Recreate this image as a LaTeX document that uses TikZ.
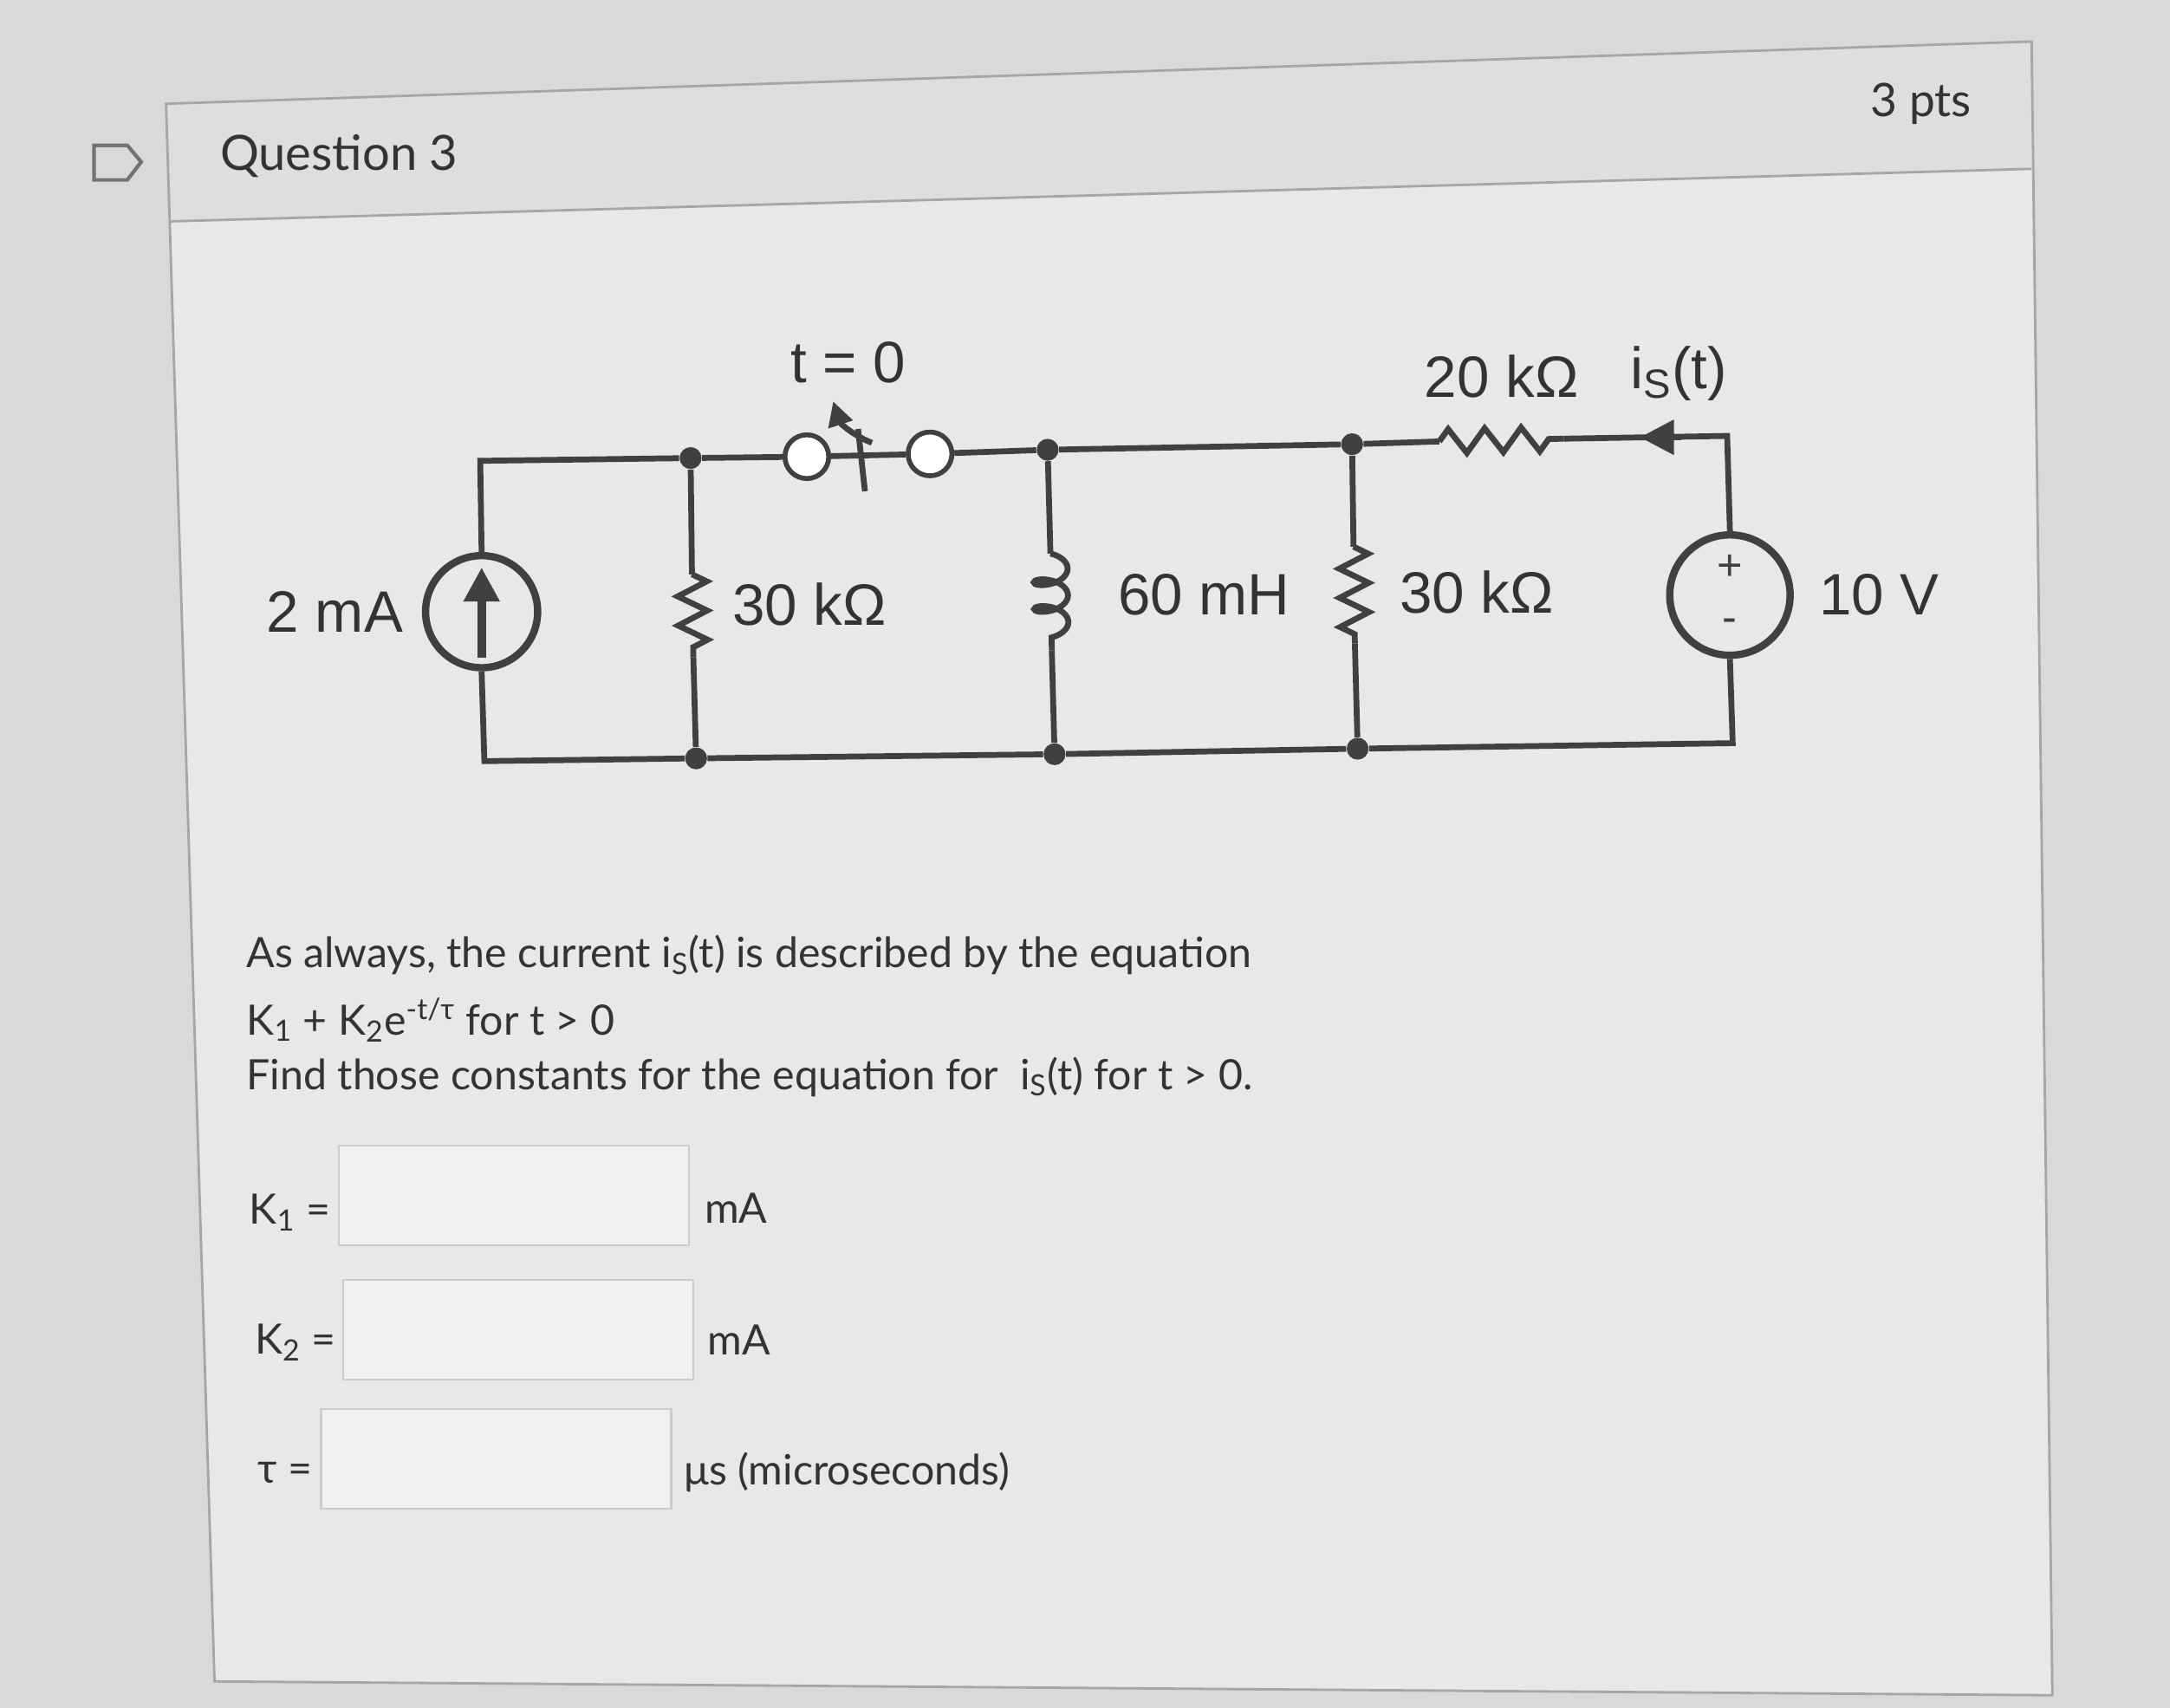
\documentclass[tikz,border=0pt]{standalone}
\usepackage{fontspec}
\setmainfont{Lato}
\newfontfamily\arial{Liberation Sans}
\usetikzlibrary{arrows.meta,decorations.pathmorphing}
\begin{document}
\begin{tikzpicture}[x=0.02cm,y=-0.02cm,
  wire/.style={line width=2.4pt,draw=black!75},
  dotn/.style={circle,fill=black!75,inner sep=0pt,minimum size=9pt},
  clab/.style={font=\arial\fontsize{24}{28}\selectfont,text=black!80},
  body/.style={font=\fontsize{17.2}{20}\selectfont,text=black!80,anchor=west},
  ansbox/.style={draw=black!20,fill=black!6,line width=0.8pt}]
\useasboundingbox (0,0) rectangle (1568,1234);
\fill[black!15] (0,0) rectangle (1568,1234);
% card
\fill[black!9] (120,75) -- (1468,30) -- (1483,1225) -- (155,1215) -- cycle;
\fill[black!13] (120,75) -- (1468,30) -- (1468,122) -- (122,160) -- cycle;
\draw[black!35,line width=1pt] (120,75) -- (1468,30) -- (1483,1225) -- (155,1215) -- cycle;
\draw[black!35,line width=1pt] (122,160) -- (1468,122);
\draw[black!55,line width=1.5pt] (68,105) -- (92,105) -- (102,117) -- (92,130) -- (68,130) -- cycle;
\node[font=\fontsize{20}{24}\selectfont,text=black!80] (q) at (245,113) {Question 3};
\node[font=\fontsize{19}{24}\selectfont,text=black!80] (pts) at (1388,75) {3 pts};
% circuit nodes
\coordinate (tl) at (347,333); \coordinate (bl) at (350,550);
\node[dotn] (n1) at (499,331) {}; \node[dotn] (b1) at (503,548) {};
\node[circle,draw=black!75,line width=2pt,fill=white,inner sep=0pt,minimum size=18pt] (s1) at (583,330) {};
\node[circle,draw=black!75,line width=2pt,fill=white,inner sep=0pt,minimum size=18pt] (s2) at (672,328) {};
\node[dotn] (n2) at (757,325) {}; \node[dotn] (b2) at (762,545) {};
\node[dotn] (n3) at (977,321) {}; \node[dotn] (b3) at (981,541) {};
\coordinate (tr) at (1248,315); \coordinate (br) at (1252,537);
\node[circle,draw=black!75,line width=3pt,minimum size=1.62cm,inner sep=0pt] (cs) at (348,442) {};
\node[circle,draw=black!75,line width=3pt,minimum size=1.74cm,inner sep=0pt] (vs) at (1250,430) {};
% wires
\draw[wire] (cs.north) -- (tl) -- (n1) -- (s1);
\draw[wire] (cs.south) -- (bl) -- (b1) -- (b2) -- (b3) -- (br) -- (vs.south);
\draw[wire] (s2) -- (n2) -- (n3) -- (1040,319);
\draw[wire] (1130,317) -- (tr) -- (vs.north);
% 20k resistor
\draw[wire,decorate,decoration={zigzag,segment length=15pt,amplitude=5pt}] (1040,319) -- (1130,317);
\draw[-{Triangle[length=14pt,width=14pt]},black!75,line width=2.4pt] (1215,316) -- (1185,316);
% switch
\draw[wire] (s1) -- (s2);
\draw[wire] (620,310) -- (625,355);
\draw[-{Triangle[length=10pt,width=10pt]},black!75,line width=2.4pt] (630,320) to[bend left=25] (602,290);
% current source arrow
\draw[-{Triangle[length=14pt,width=14pt]},black!75,line width=3.5pt] (348,475) -- (348,410);
\node[font=\arial\fontsize{18}{18}\selectfont,text=black!75] at (1250,410) {+};
\node[font=\arial\fontsize{18}{18}\selectfont,text=black!75] at (1250,452) {-};
% vertical resistors and inductor
\draw[wire] (n1) -- (500,415);
\draw[wire,decorate,decoration={zigzag,segment length=12pt,amplitude=6pt}] (500,415) -- (501,475);
\draw[wire] (501,475) -- (b1);
\draw[wire] (n2) -- (759,400);
\draw[wire,decorate,decoration={coil,aspect=0.5,segment length=11pt,amplitude=7pt}] (759,400) -- (760,470);
\draw[wire] (760,470) -- (b2);
\draw[wire] (n3) -- (978,395);
\draw[wire,decorate,decoration={zigzag,segment length=12pt,amplitude=6pt}] (978,395) -- (979,465);
\draw[wire] (979,465) -- (b3);
% labels
\node[clab] (l1) at (242,442) {2 mA};
\node[clab] (l2) at (585,437) {30 kΩ};
\node[clab] (l3) at (870,430) {60 mH};
\node[clab] (l4) at (1067,428) {30 kΩ};
\node[clab] (l5) at (1358,430) {10 V};
\node[clab] (l6) at (1085,272) {20 kΩ};
\node[clab] (l7) at (1213,270) {i\textsubscript{S}(t)};
\node[clab] (l8) at (613,262) {t = 0};
% text
\node[body] (t1) at (172,690) {As always, the current i\textsubscript{S}(t) is described by the equation};
\node[body] (t2) at (172,737) {K\textsubscript{1} + K\textsubscript{2}e\textsuperscript{-t/τ} for t > 0};
\node[body] (t3) at (172,778) {Find those constants for the equation for \ i\textsubscript{S}(t) for t > 0.};
\draw[ansbox] (245,828) rectangle (498,900);
\draw[ansbox] (248,925) rectangle (501,997);
\draw[ansbox] (232,1018) rectangle (485,1090);
\node[body] (k1) at (174,876) {K\textsubscript{1} =};
\node[body] (k2) at (178,970) {K\textsubscript{2} =};
\node[body] (k3) at (180,1064) {τ =};
\node[body] (u1) at (503,873) {mA};
\node[body] (u2) at (505,968) {mA};
\node[body] (u3) at (488,1064) {μs (microseconds)};
\end{tikzpicture}
\end{document}
